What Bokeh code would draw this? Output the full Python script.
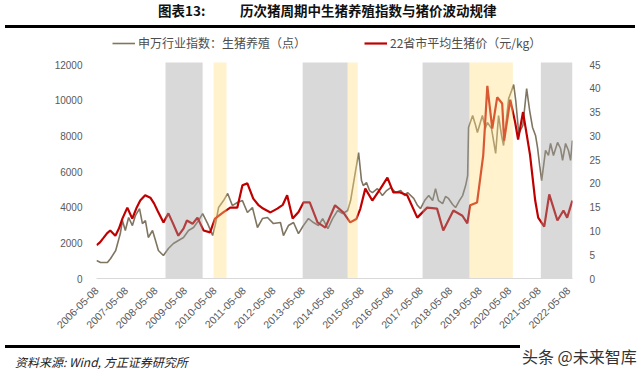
import pandas as pd
from bokeh.plotting import figure
from bokeh.models import (Range1d, LinearAxis, FixedTicker, DatetimeTickFormatter,
                          Legend, LegendItem, Div, ColumnDataSource)
from bokeh.layouts import column
from bokeh.embed import file_html
from bokeh.resources import INLINE
import math

# ---------------- data ----------------
index_dates = [
    "2006-05-08", "2006-06-28", "2006-09-20", "2006-10-30", "2007-01-01", "2007-02-27",
    "2007-03-25", "2007-04-30", "2007-06-10", "2007-07-27", "2007-09-02", "2007-10-23",
    "2007-11-28", "2008-01-04", "2008-02-09", "2008-04-01", "2008-05-08", "2008-06-13",
    "2008-08-14", "2008-10-15", "2008-12-16", "2009-02-16", "2009-04-20", "2009-06-21",
    "2009-08-22", "2009-10-23", "2009-12-13", "2010-02-13", "2010-04-16", "2010-05-22",
    "2010-06-28", "2010-08-29", "2010-10-19", "2010-12-16", "2011-02-16", "2011-04-20",
    "2011-06-21", "2011-08-22", "2011-10-23", "2011-12-24", "2012-02-24", "2012-05-08",
    "2012-08-03", "2012-09-09", "2012-11-10", "2013-01-12", "2013-03-14", "2013-05-15",
    "2013-07-16", "2013-09-16", "2013-11-17", "2014-01-08", "2014-03-14", "2014-05-11",
    "2014-07-12", "2014-09-12", "2014-11-14", "2014-12-20", "2015-01-26", "2015-03-03",
    "2015-03-29", "2015-05-04", "2015-05-26", "2015-07-05", "2015-08-11", "2015-09-16",
    "2015-11-17", "2016-01-18", "2016-03-10", "2016-04-30", "2016-07-01", "2016-09-01",
    "2016-10-19", "2016-11-25", "2017-02-09", "2017-03-29", "2017-05-04", "2017-06-24",
    "2017-08-14", "2017-10-01", "2017-11-06", "2017-12-13", "2018-02-02", "2018-03-10",
    "2018-04-16", "2018-06-06", "2018-07-12", "2018-08-29", "2018-10-08", "2018-11-14",
    "2018-12-09", "2018-12-20", "2019-02-09", "2019-03-18", "2019-04-09", "2019-06-10",
    "2019-07-16", "2019-08-11", "2019-10-01", "2019-11-21", "2019-12-27", "2020-02-02",
    "2020-02-27", "2020-04-30", "2020-06-06", "2020-07-01", "2020-07-27", "2020-09-02",
    "2020-10-23", "2020-12-09", "2021-01-15", "2021-02-20", "2021-03-29", "2021-04-23",
    "2021-05-19", "2021-06-13", "2021-07-31", "2021-09-05", "2021-10-01", "2021-11-06",
    "2021-12-27", "2022-02-02", "2022-02-27", "2022-04-05", "2022-05-11", "2022-06-06",
    "2022-06-28",
]
index_values = [
    1010, 900, 900, 1120, 1570, 2520,
    3250, 2690, 3420, 2970, 3530, 3920,
    3080, 3250, 2300, 2690, 2130, 1570,
    1290, 1680, 1960, 2130, 2300, 2690,
    2860, 3250, 3640, 3080, 2410, 3080,
    3980, 4370, 4770, 4090, 4260, 4370,
    3700, 3980, 2860, 3360, 3420, 3080,
    3140, 2410, 2970, 3140, 2520, 2970,
    3360, 3140, 2970, 3360, 2800, 3360,
    3810, 3640, 3810, 4370, 5380, 6340,
    7060, 5490, 5210, 5380, 4930, 4820,
    5040, 4650, 4930, 5100, 4820, 4930,
    4650, 4820, 4490, 4090, 3920, 4370,
    4650, 4370, 5040, 4370, 4200, 4600,
    4490, 4150, 3980, 4370, 4650, 5210,
    5770, 8470, 9140, 8580, 8190, 9140,
    8410, 8750, 8410, 7010, 9140, 8020,
    7460, 10090, 10540, 10880, 9980, 8130,
    8580, 10650, 9420, 8470, 8020, 7340,
    6340, 5490, 7180, 6900, 7570, 6900,
    7630, 7290, 6620, 7570, 7180, 6620,
    7740,
]

price_dates = [
    "2006-05-08", "2006-06-20", "2006-08-05", "2006-09-15", "2006-10-25", "2006-12-28",
    "2007-02-10", "2007-03-25", "2007-05-25", "2007-07-25", "2007-09-20", "2007-11-01",
    "2008-01-01", "2008-03-05", "2008-04-20", "2008-06-01", "2008-08-15", "2008-10-15",
    "2008-12-05", "2009-02-15", "2009-04-20", "2009-06-01", "2009-08-10", "2009-10-10",
    "2009-12-25", "2010-03-15", "2010-05-15", "2010-08-25", "2010-11-20", "2011-02-15",
    "2011-04-20", "2011-06-20", "2011-09-01", "2011-11-01", "2012-01-01", "2012-04-01",
    "2012-06-25", "2012-09-01", "2012-10-25", "2013-01-01", "2013-03-15", "2013-05-15",
    "2013-08-01", "2013-11-05", "2014-02-10", "2014-06-10", "2014-09-20", "2014-12-15",
    "2015-03-01", "2015-04-20", "2015-06-20", "2015-09-15", "2015-12-25", "2016-03-20",
    "2016-06-01", "2016-08-25", "2016-11-20", "2017-03-25", "2017-07-25", "2017-11-25",
    "2018-02-10", "2018-06-15", "2018-10-05", "2018-12-05", "2019-01-10", "2019-04-05",
    "2019-06-20", "2019-08-10", "2019-10-10", "2019-12-10", "2020-02-10", "2020-03-05",
    "2020-05-20", "2020-07-20", "2020-08-25", "2020-10-25", "2021-01-20", "2021-03-25",
    "2021-05-01", "2021-07-15", "2021-09-15", "2021-12-25", "2022-03-10", "2022-04-25",
    "2022-06-28",
]
price_values = [
    7.0, 7.6, 8.6, 9.5, 10.1, 9.0,
    10.5, 12.6, 14.9, 12.6, 15.0, 16.4,
    17.5, 17.0, 15.8, 14.3, 11.8, 13.7,
    11.8, 9.0, 10.5, 12.2, 11.5, 12.8,
    10.1, 9.7, 12.6, 13.9, 14.9, 14.9,
    19.6, 20.0, 16.8, 15.5, 14.7, 13.9,
    14.7, 15.5, 17.5, 12.6, 14.0, 16.0,
    16.0, 11.8, 10.7, 15.4, 13.9, 11.8,
    12.5, 14.7, 18.9, 16.4, 18.9, 21.2,
    18.1, 18.1, 17.5, 12.8, 14.9, 14.7,
    10.1, 14.3, 13.2, 11.6, 15.4, 16.0,
    25.9, 40.5, 31.5, 38.1, 36.8, 29.0,
    37.6, 32.8, 29.2, 35.0, 26.0, 16.4,
    12.8, 10.9, 17.7, 12.2, 14.3, 12.8,
    16.4,
]

gray_starts = ["2008-09-09", "2013-05-05", "2017-05-30", "2021-06-03"]
gray_ends = ["2009-12-13", "2014-11-14", "2019-01-01", "2022-06-30"]
yellow_starts = ["2010-04-27", "2014-11-14", "2019-01-01"]
yellow_ends = ["2010-10-05", "2015-03-18", "2020-06-21"]

xtick_labels = ["2006-05-08", "2007-05-08", "2008-05-08", "2009-05-08", "2010-05-08",
                "2011-05-08", "2012-05-08", "2013-05-08", "2014-05-08", "2015-05-08",
                "2016-05-08", "2017-05-08", "2018-05-08", "2019-05-08", "2020-05-08",
                "2021-05-08", "2022-05-08"]
left_ticks = [0, 2000, 4000, 6000, 8000, 10000, 12000]
right_ticks = [0, 5, 10, 15, 20, 25, 30, 35, 40, 45]

series_names = ["申万行业指数：生猪养殖（点）", "22省市平均生猪价（元/kg）"]

# ---------------- figure ----------------
FONT = "Noto Sans CJK SC"
TICK_FONT = "Liberation Sans"
GREY_TXT = "#595959"

x_start = pd.Timestamp("2006-05-08")
x_end = pd.Timestamp("2022-06-30")

# plot area: 12000 sits at the top tick; room above it holds the legend
LEFT_MAX = 13907
RIGHT_MAX = 52.15
BAND_TOP = 12110

p = figure(width=640, height=315, x_axis_type="datetime", output_backend="svg",
           toolbar_location=None,
           x_range=Range1d(x_start, x_end), y_range=Range1d(0, LEFT_MAX),
           min_border_left=96, min_border_right=68, min_border_top=0,
           min_border_bottom=67)
p.extra_y_ranges = {"price": Range1d(0, RIGHT_MAX)}
p.outline_line_color = None
p.xgrid.visible = False
p.ygrid.visible = False
p.background_fill_color = "white"
p.border_fill_color = "white"

idx_line = p.line(pd.to_datetime(index_dates), index_values, line_color="#7f7561",
                  line_width=1.6)
pr_line = p.line(pd.to_datetime(price_dates), price_values, line_color="#c00000",
                 line_width=2.2, y_range_name="price")

# translucent period bands drawn over the lines
gray_src = ColumnDataSource(dict(left=pd.to_datetime(gray_starts),
                                 right=pd.to_datetime(gray_ends)))
yellow_src = ColumnDataSource(dict(left=pd.to_datetime(yellow_starts),
                                   right=pd.to_datetime(yellow_ends)))
p.quad(left="left", right="right", bottom=0, top=BAND_TOP, source=gray_src,
       fill_color="#a0a0a0", fill_alpha=0.4, line_color=None)
p.quad(left="left", right="right", bottom=0, top=BAND_TOP, source=yellow_src,
       fill_color="#ffde80", fill_alpha=0.4, line_color=None)

# axes
xa = p.xaxis[0]
xa.ticker = FixedTicker(ticks=[pd.Timestamp(t).value / 1e6 for t in xtick_labels])
fmt = "%Y-%m-%d"
xa.formatter = DatetimeTickFormatter(years=fmt, months=fmt, days=fmt, hours=fmt,
                                     minutes=fmt, seconds=fmt, milliseconds=fmt)
xa.major_label_orientation = math.pi / 4
xa.axis_line_color = "#d9d9d9"
xa.major_tick_line_color = None
xa.minor_tick_line_color = None
xa.major_label_text_font = TICK_FONT
xa.major_label_text_font_size = "10.5px"
xa.major_label_text_color = GREY_TXT
xa.major_label_standoff = 4

ya = p.yaxis[0]
ya.ticker = FixedTicker(ticks=left_ticks)
ya.axis_line_color = None
ya.major_tick_line_color = None
ya.minor_tick_line_color = None
ya.major_label_text_font = TICK_FONT
ya.major_label_text_font_size = "10px"
ya.major_label_text_color = GREY_TXT
ya.major_label_standoff = 8

ra = LinearAxis(y_range_name="price", ticker=FixedTicker(ticks=right_ticks))
ra.axis_line_color = None
ra.major_tick_line_color = None
ra.minor_tick_line_color = None
ra.major_label_text_font = TICK_FONT
ra.major_label_text_font_size = "10px"
ra.major_label_text_color = GREY_TXT
ra.major_label_standoff = 11
p.add_layout(ra, "right")

legend = Legend(items=[LegendItem(label=series_names[0], renderers=[idx_line]),
                       LegendItem(label=series_names[1], renderers=[pr_line])],
                orientation="horizontal", location=(16, 227),
                label_text_font=FONT, label_text_font_size="12px",
                label_text_color="#4d4d4d", glyph_width=23, glyph_height=14,
                label_height=14, label_standoff=3, spacing=58, padding=0,
                margin=0, border_line_color=None, background_fill_alpha=0)
p.add_layout(legend, "center")

title_div = Div(width=640, height=30, margin=0, text=f"""
<div style="position:relative;width:640px;height:30px;font-family:'{FONT}';color:#111;">
  <span style="position:absolute;left:158px;top:1px;font-size:13.5px;font-weight:bold;white-space:nowrap;">图表13:</span>
  <span style="position:absolute;left:240px;top:1px;font-size:13.5px;font-weight:bold;white-space:nowrap;">历次猪周期中生猪养殖指数与猪价波动规律</span>
  <div style="position:absolute;left:5px;top:25px;width:630px;height:3px;background:#000;"></div>
</div>""")

footer_div = Div(width=640, height=32, margin=0, text=f"""
<div style="position:relative;width:640px;height:32px;font-family:'{FONT}';">
  <div style="position:absolute;left:5px;top:0px;width:630px;height:3px;background:#000;"></div>
  <span style="position:absolute;left:15px;top:8px;font-size:12px;font-style:italic;color:#222;white-space:nowrap;">资料来源: Wind, 方正证券研究所</span>
  <span style="position:absolute;left:520px;top:0px;font-size:16px;color:#333;background:#fff;padding:0 2px;white-space:nowrap;">头条 @未来智库</span>
</div>""")

layout = column(title_div, p, footer_div, spacing=0)

open("out.html", "w").write(file_html(layout, INLINE))
